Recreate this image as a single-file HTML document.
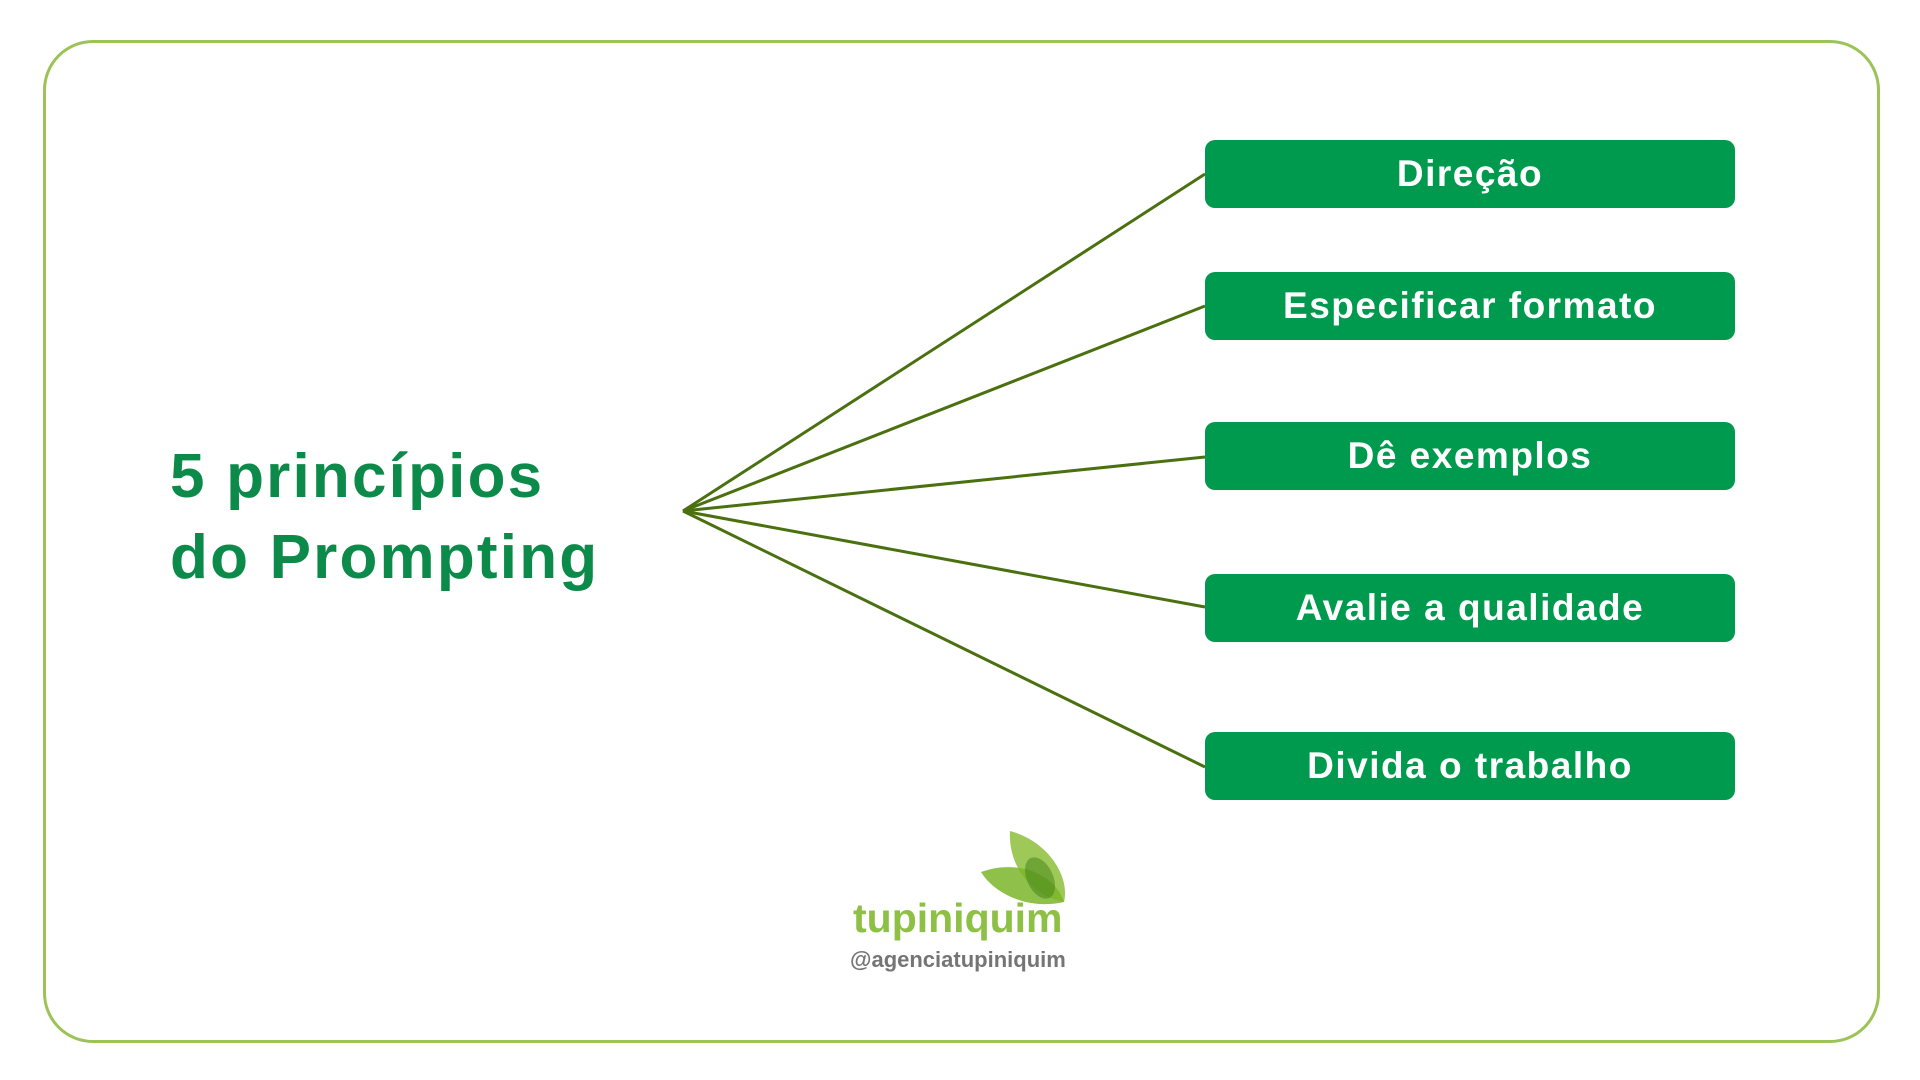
<!DOCTYPE html>
<html><head><style>
body{margin:0;width:1920px;height:1080px;background:#fff;position:relative;overflow:hidden;font-family:"Liberation Sans",sans-serif}
.frame{position:absolute;left:43px;top:40px;width:1831px;height:997px;border:3px solid #9cc356;border-radius:50px}
.box{position:absolute;left:1205px;width:530px;height:68px;background:#009a4e;border-radius:10px;color:#fff;font-weight:bold;font-size:37px;letter-spacing:1.5px;display:flex;align-items:center;justify-content:center}
.title{position:absolute;left:170px;top:436px;color:#0b8a4a;font-weight:bold;font-size:62px;line-height:81px;letter-spacing:2.2px}
</style></head><body>
<div class="frame"></div>
<svg style="position:absolute;left:0;top:0" width="1920" height="1080">
<g stroke="#4a7010" stroke-width="3" fill="none">
<line x1="683" y1="511" x2="1205" y2="174"/>
<line x1="683" y1="511" x2="1205" y2="306"/>
<line x1="683" y1="511" x2="1205" y2="457"/>
<line x1="683" y1="511" x2="1205" y2="607"/>
<line x1="683" y1="511" x2="1205" y2="767"/>
</g>
<g>
<path d="M1010 831 C1050 842 1070 878 1064 902 C1030 895 1008 865 1010 831Z" fill="#8dc03c" opacity="0.85"/>
<path d="M981 872 C1020 858 1056 876 1064 902 C1030 910 995 895 981 872Z" fill="#7ab52a" opacity="0.85"/>
<ellipse cx="1040" cy="878" rx="13" ry="22" fill="#3f7f15" opacity="0.5" transform="rotate(-25 1040 878)"/>
</g>
</svg>
<div class="title">5 princípios<br>do Prompting</div>
<div class="box" style="top:140px">Direção</div>
<div class="box" style="top:272px">Especificar formato</div>
<div class="box" style="top:422px">Dê exemplos</div>
<div class="box" style="top:574px">Avalie a qualidade</div>
<div class="box" style="top:732px">Divida o trabalho</div>
<div style="position:absolute;left:853px;top:895px;color:#8dc044;font-weight:bold;font-size:41px;letter-spacing:0px">tupiniquim</div>
<div style="position:absolute;left:850px;top:947px;color:#757575;font-weight:bold;font-size:22px">@agenciatupiniquim</div>
</body></html>
